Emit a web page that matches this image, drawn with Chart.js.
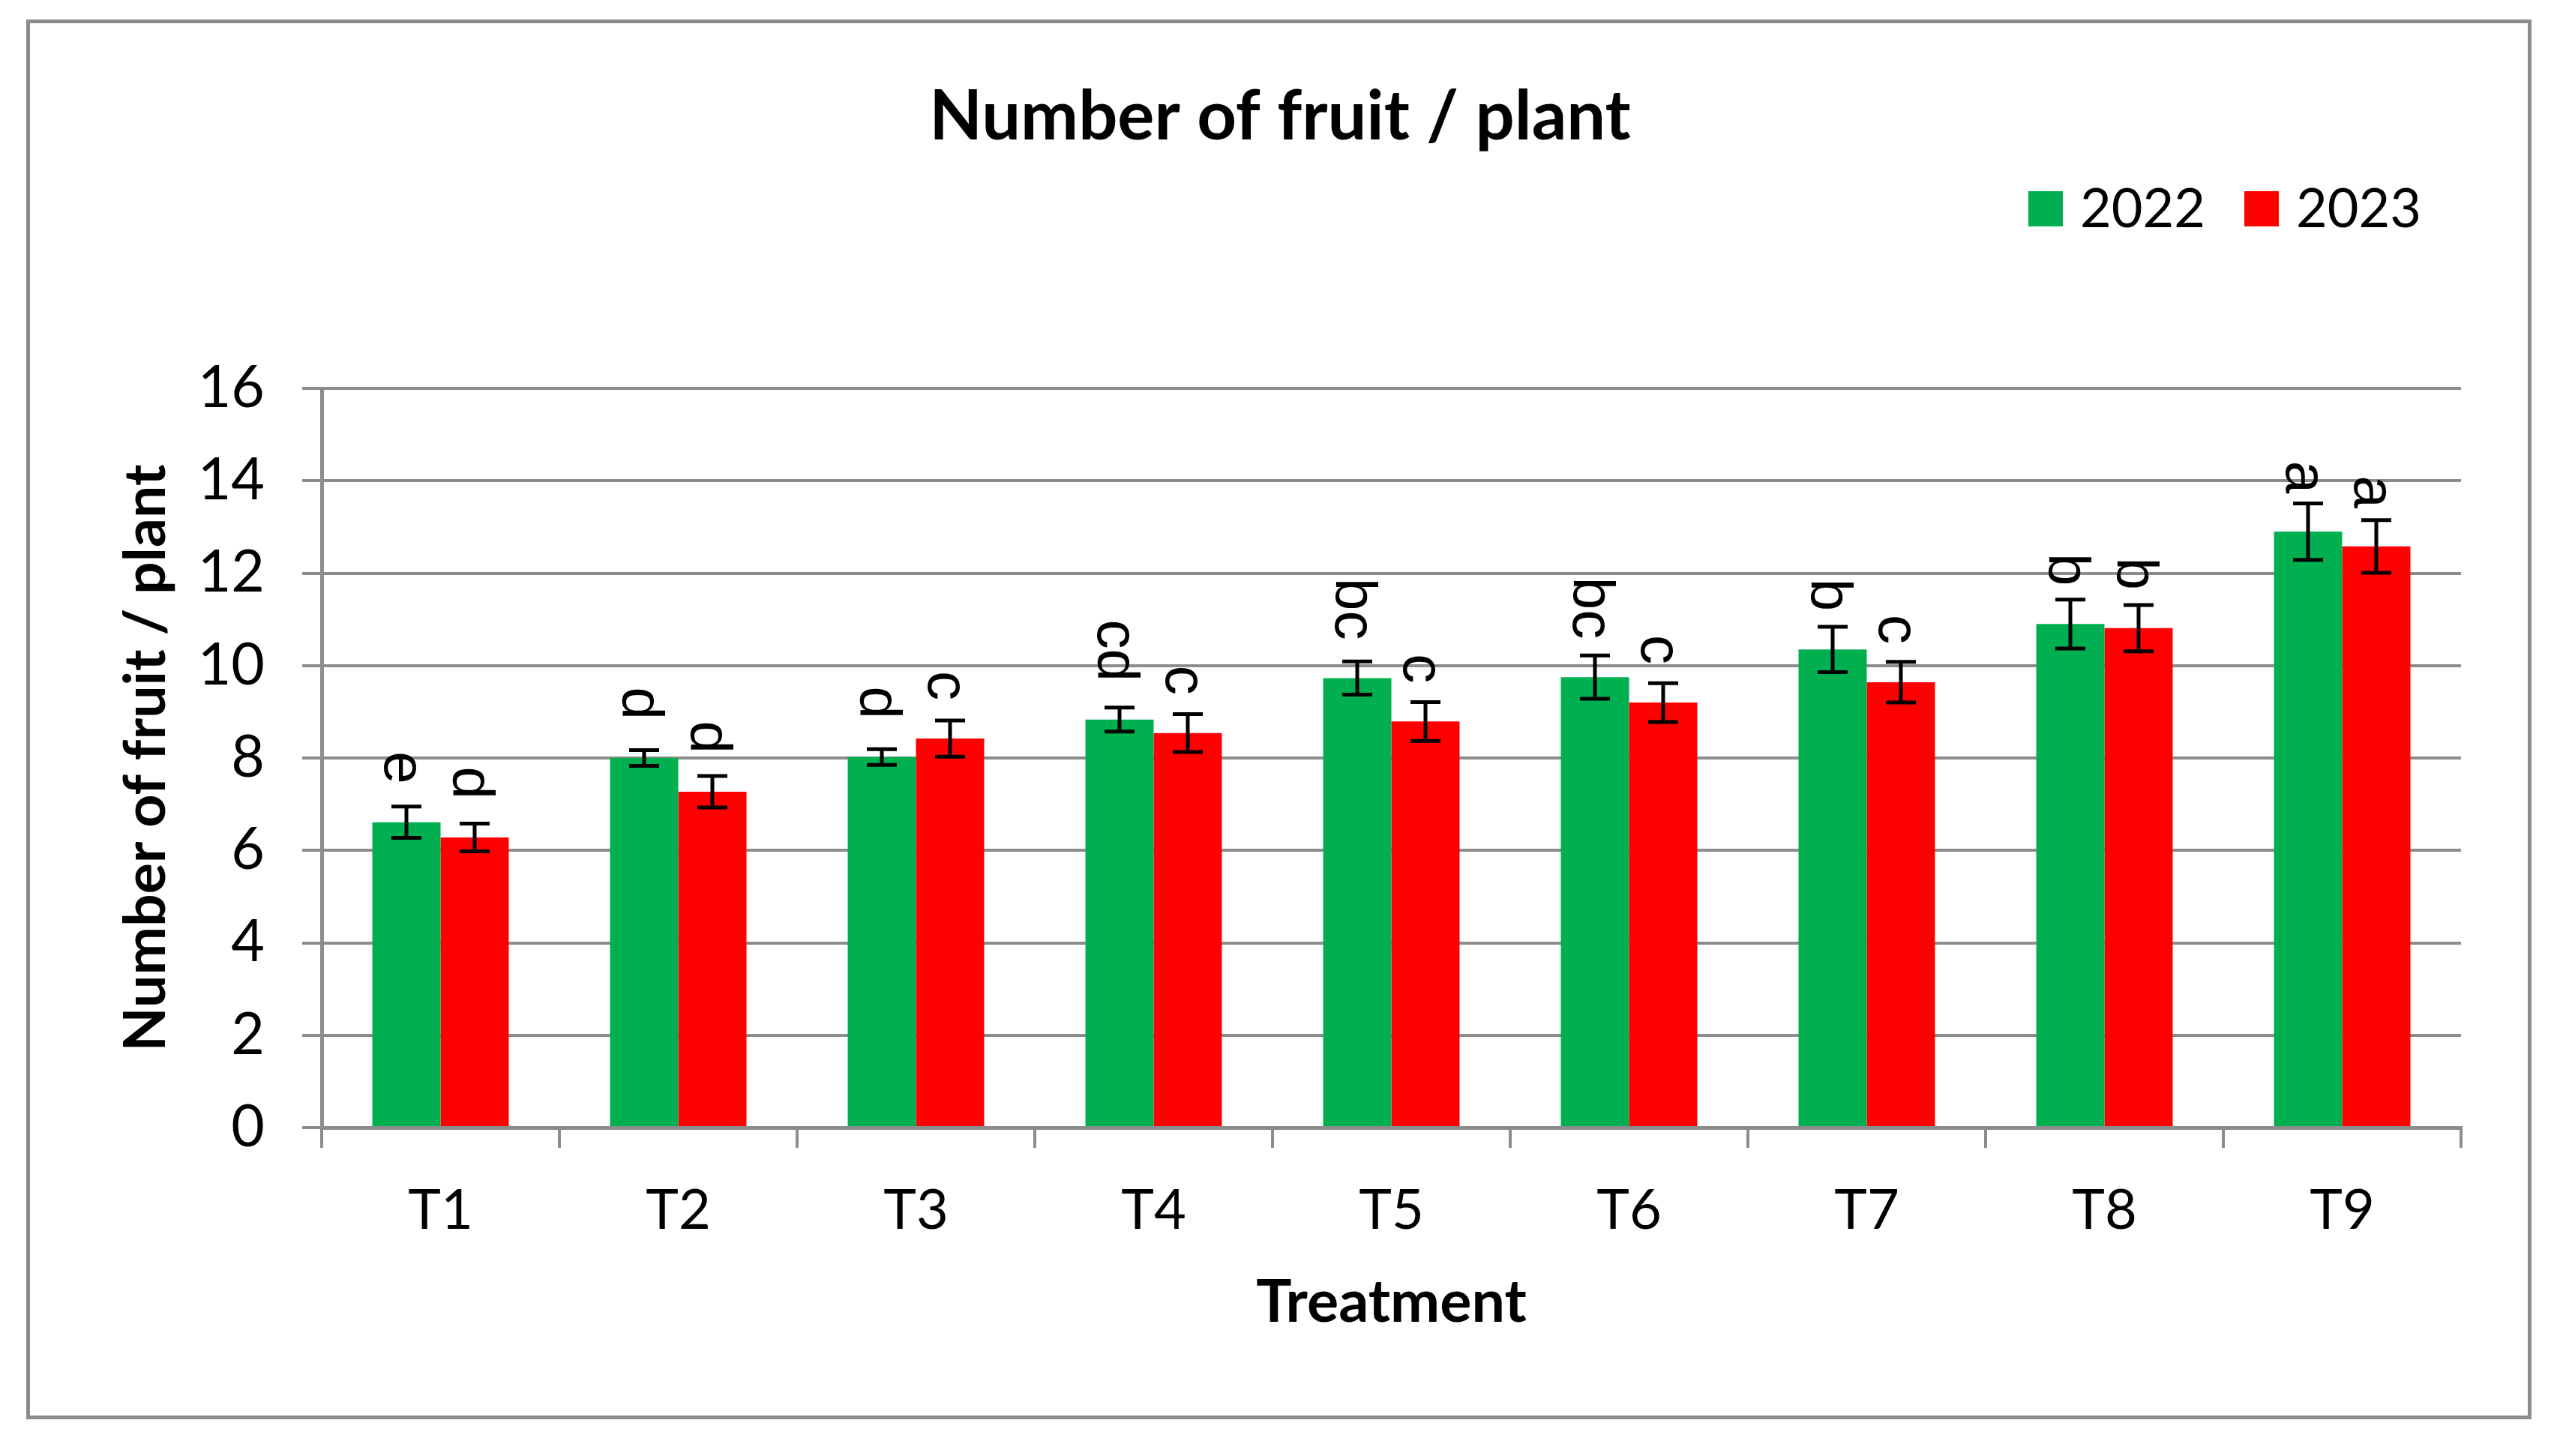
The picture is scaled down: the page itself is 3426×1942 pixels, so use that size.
<!DOCTYPE html>
<html>
<head>
<meta charset="utf-8">
<title>Number of fruit / plant</title>
<script src="https://cdn.jsdelivr.net/npm/chart.js@4.4.1/dist/chart.umd.min.js"></script>
<style>
    html, body { margin: 0; padding: 0; background: #ffffff; }
    canvas { display: block; }
</style>
</head>
<body>
<canvas id="fruitChart" width="3426" height="1942" style="width:3426px;height:1942px"></canvas>
<script>
// ---- data ----
const treatments = ["T1", "T2", "T3", "T4", "T5", "T6", "T7", "T8", "T9"];
const seriesNames = ["2022", "2023"];

const fruit2022 = [6.61, 8.00, 8.02, 8.83, 9.73, 9.75, 10.35, 10.90, 12.90];
const fruit2023 = [6.28, 7.27, 8.42, 8.54, 8.79, 9.20, 9.64, 10.81, 12.58];

const err2022 = [0.34, 0.17, 0.17, 0.26, 0.36, 0.47, 0.49, 0.53, 0.61];
const err2023 = [0.30, 0.34, 0.39, 0.41, 0.42, 0.42, 0.44, 0.50, 0.57];

const letters2022 = ["e", "d", "d", "cd", "bc", "bc", "b", "b", "a"];
const letters2023 = ["d", "d", "c", "c", "c", "c", "c", "b", "a"];

const yMin = 0;
const yMax = 16;
const yStep = 2;

const GREEN = "#00B050";
const RED = "#FF0000";
const GRID = "#8c8c8c";

Chart.defaults.font.family = "Lato";
Chart.defaults.color = "#000000";

const errors = [err2022, err2023];
const letters = [letters2022, letters2023];
const colors = [GREEN, RED];

// error bars, significance letters, title, legend, frame
const decor = {
    id: "decor",
    beforeDraw(chart) {
        const ctx = chart.ctx;
        ctx.save();
        ctx.fillStyle = "#ffffff";
        ctx.fillRect(0, 0, chart.width, chart.height);
        ctx.restore();
    },
    afterDatasetsDraw(chart) {
        const ctx = chart.ctx;
        const y = chart.scales.y;

        errors.forEach((errs, di) => {
            const meta = chart.getDatasetMeta(di);
            meta.data.forEach((bar, i) => {
                const v = chart.data.datasets[di].data[i];
                const hi = y.getPixelForValue(v + errs[i]);
                const lo = y.getPixelForValue(v - errs[i]);

                ctx.save();
                ctx.strokeStyle = "#000000";
                ctx.lineWidth = 5;
                ctx.beginPath();
                ctx.moveTo(bar.x, hi); ctx.lineTo(bar.x, lo);
                ctx.moveTo(bar.x - 20, hi); ctx.lineTo(bar.x + 20, hi);
                ctx.moveTo(bar.x - 20, lo); ctx.lineTo(bar.x + 20, lo);
                ctx.stroke();

                // letter, turned 90deg clockwise, ending just above the bar
                ctx.translate(bar.x - 29, bar.y - 51);
                ctx.rotate(Math.PI / 2);
                ctx.font = "78px 'Liberation Sans'";
                ctx.fillStyle = "#000000";
                ctx.textAlign = "right";
                ctx.textBaseline = "alphabetic";
                ctx.fillText(letters[di][i], 0, 0);
                ctx.restore();
            });
        });
    },
    afterDraw(chart) {
        const ctx = chart.ctx;
        ctx.save();

        // outer frame
        ctx.strokeStyle = GRID;
        ctx.lineWidth = 5;
        ctx.strokeRect(37.5, 28.5, 3336, 1862);

        // title
        ctx.fillStyle = "#000000";
        ctx.font = "bold 92px Lato";
        ctx.textAlign = "center";
        ctx.textBaseline = "alphabetic";
        ctx.fillText("Number of fruit / plant", 1707, 186);

        // legend
        ctx.font = "72px Lato";
        ctx.textAlign = "left";
        let x = 2705;
        seriesNames.forEach((name, i) => {
            ctx.fillStyle = colors[i];
            ctx.fillRect(x, 255, 46, 47);
            ctx.fillStyle = "#000000";
            ctx.fillText(name, x + 46 + 23, 303);
            x += 46 + 23 + ctx.measureText(name).width + 52;
        });

        ctx.restore();
    }
};

new Chart(document.getElementById("fruitChart"), {
    type: "bar",
    data: {
        labels: treatments,
        datasets: [
            {
                label: seriesNames[0],
                data: fruit2022,
                backgroundColor: GREEN,
                borderWidth: 0
            },
            {
                label: seriesNames[1],
                data: fruit2023,
                backgroundColor: RED,
                borderWidth: 0
            }
        ]
    },
    options: {
        responsive: false,
        animation: false,
        devicePixelRatio: 1,
        layout: {
            padding: { top: 518, right: 144, bottom: 0, left: 0 }
        },
        datasets: {
            bar: { categoryPercentage: 0.574, barPercentage: 1.0 }
        },
        plugins: {
            legend: { display: false },
            title: { display: false },
            tooltip: { enabled: false }
        },
        scales: {
            x: {
                grid: {
                    display: true,
                    drawOnChartArea: false,
                    drawTicks: true,
                    tickLength: 27,
                    color: GRID,
                    lineWidth: 4,
                    offset: true
                },
                border: { display: true, color: GRID, width: 5 },
                ticks: {
                    font: { size: 74 },
                    color: "#000000",
                    padding: 40
                },
                title: {
                    display: true,
                    text: "Treatment",
                    font: { size: 79, weight: "bold", lineHeight: 1 },
                    color: "#000000",
                    padding: { top: 0, bottom: 165 }
                },
                afterFit(scale) { scale.height = 438; }
            },
            y: {
                min: yMin,
                max: yMax,
                grid: {
                    color: GRID,
                    lineWidth: 4,
                    drawTicks: true,
                    tickLength: 26
                },
                border: { display: true, color: GRID, width: 5 },
                ticks: {
                    stepSize: yStep,
                    font: { size: 77 },
                    color: "#000000",
                    padding: 50
                },
                title: {
                    display: true,
                    text: "Number of fruit / plant",
                    font: { size: 77, weight: "bold", lineHeight: 1 },
                    color: "#000000",
                    padding: { top: 157, bottom: 0 }
                },
                afterFit(scale) { scale.width = 429; }
            }
        }
    },
    plugins: [decor]
});
</script>
</body>
</html>
